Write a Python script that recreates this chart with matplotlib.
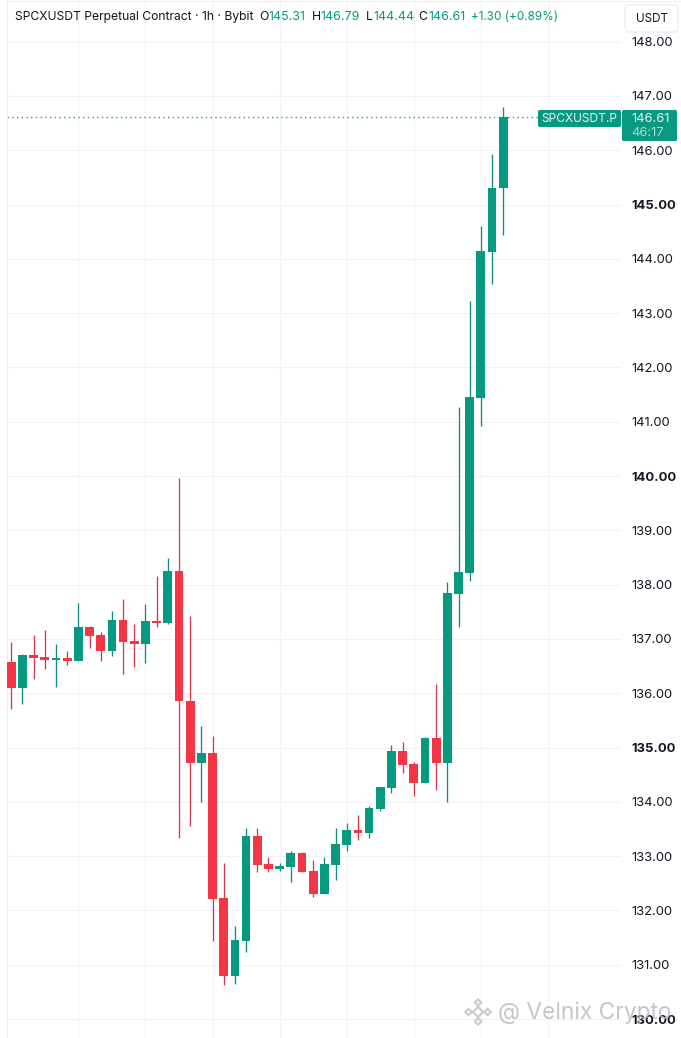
import numpy as np
import matplotlib
matplotlib.use("Agg")
import matplotlib.pyplot as plt
from matplotlib.patches import FancyBboxPatch, Polygon

plt.rcParams['font.family'] = ['Inter', 'DejaVu Sans']

# candles
open_ = [136.58, 136.10, 136.71, 136.67, 136.61, 136.65, 136.60, 137.22, 137.07, 136.78,
         137.35, 136.96, 136.91, 137.33, 137.30, 138.25, 135.86, 134.72, 134.90, 132.23,
         130.80, 131.44, 133.37, 132.85, 132.76, 132.81, 133.06, 132.73, 132.31, 132.84,
         133.21, 133.48, 133.43, 133.87, 134.26, 134.94, 134.70, 134.35, 135.18, 134.72,
         137.83, 138.22, 141.44, 144.13, 145.31]
high = [136.95, 136.72, 137.08, 137.17, 136.91, 136.78, 137.67, 137.24, 137.12, 137.52,
        137.74, 137.27, 137.64, 138.16, 138.49, 139.97, 137.42, 135.40, 135.21, 132.87,
        131.71, 133.52, 133.52, 132.99, 132.87, 133.10, 133.07, 132.93, 132.99, 133.52,
        133.61, 133.76, 133.92, 134.28, 135.05, 135.11, 134.73, 135.20, 136.17, 138.05,
        141.27, 143.22, 144.60, 145.94, 146.79]
low = [135.71, 135.81, 136.26, 136.45, 136.12, 136.52, 136.60, 136.84, 136.59, 136.69,
       136.36, 136.48, 136.56, 137.22, 137.28, 133.34, 133.56, 134.00, 131.43, 130.63,
       130.65, 131.24, 132.71, 132.71, 132.73, 132.53, 132.70, 132.25, 132.31, 132.57,
       133.10, 133.30, 133.34, 133.83, 134.16, 134.53, 134.11, 134.35, 134.22, 134.00,
       137.22, 138.07, 140.92, 143.54, 144.44]
close = [136.10, 136.71, 136.65, 136.61, 136.65, 136.60, 137.22, 137.06, 136.78, 137.35,
         136.95, 136.91, 137.33, 137.30, 138.25, 135.86, 134.72, 134.90, 132.22, 130.80,
         131.46, 133.37, 132.84, 132.76, 132.82, 133.06, 132.71, 132.31, 132.86, 133.22,
         133.48, 133.43, 133.89, 134.27, 134.94, 134.68, 134.35, 135.18, 134.72, 137.85,
         138.23, 141.46, 144.15, 145.30, 146.61]
price_ticks = list(range(130, 149))
bold_ticks = [130, 135, 140, 145]
time_grid = [6, 12, 18, 24, 30, 36, 42, 48]
last_price = 146.61

GREEN = '#089981'
RED = '#f23645'
W, H = 681, 1038


def fx(px):
    return px / W


def fy(py):
    return 1 - py / H


fig = plt.figure(figsize=(W / 100, H / 100), dpi=100, facecolor='white')
ax = fig.add_axes([fx(7), 0, fx(621 - 7), 1])

# price and bar index scales, from the gridline and candle positions
ax.set_ylim(147 - (H - 96) / 54.3, 147 + 96 / 54.3)
ax.set_xlim((7 - 11.3) / 11.18, (621 - 11.3) / 11.18)

x = np.arange(len(open_))
o, c, h, l = map(np.array, (open_, close, high, low))
colors = [GREEN if b >= a else RED for a, b in zip(o, c)]
wick_colors = ['#0f8f7b' if b >= a else '#d23a50' for a, b in zip(o, c)]

ax.vlines(x, l, h, colors=wick_colors, linewidth=0.95, zorder=3)
ax.bar(x, np.abs(c - o), bottom=np.minimum(o, c), width=0.78, color=colors, linewidth=0, zorder=4)

ax.set_yticks(price_ticks)
ax.set_xticks(time_grid)
ax.grid(True, color='#f1f2f5', linewidth=0.8, zorder=0)
ax.tick_params(left=False, bottom=False, labelleft=False, labelbottom=False)
for name, sp in ax.spines.items():
    sp.set_visible(name == 'left')
    sp.set_color('#eeeff2')
    sp.set_linewidth(0.8)

ax.axhline(last_price, color='#12a48c', linewidth=1.0, linestyle=(0, (1, 2.4)), zorder=2)

# top border of the chart
fig.add_artist(plt.Line2D([fx(7), 1], [fy(1), fy(1)], color='#eeeff2', linewidth=0.8))

# price scale labels
for p in price_ticks:
    yy = ax.transData.transform((0, p))[1] - 1.5
    fig.text(fx(631), yy / H, f'{p:.2f}', ha='left', va='center', fontsize=9.4, color='#131722',
             fontweight='bold' if p in bold_ticks else 'normal', zorder=5)

# header, one piece per colour
header = [('SPCXUSDT Perpetual Contract · 1h · Bybit', 15, '#131722', 8.72), ('O', 259, '#131722', 8.8),
          ('145.31', 268, GREEN, 8.95), ('H', 311.5, '#131722', 8.8), ('146.79', 320, GREEN, 8.95),
          ('L', 366, '#131722', 8.8), ('144.44', 373, GREEN, 8.95), ('C', 418, '#131722', 8.8),
          ('146.61', 428, GREEN, 8.95), ('+1.30 (+0.89%)', 471, GREEN, 8.45)]
for txt, px, col, size in header:
    fig.text(fx(px), fy(17), txt, ha='left', va='center', fontsize=size, color=col)

# USDT button
fig.add_artist(FancyBboxPatch((fx(625), fy(32)), fx(53), 27 / H, boxstyle='round,pad=0,rounding_size=0.004',
                              transform=fig.transFigure, facecolor='white', edgecolor='#e8e9ec',
                              linewidth=0.8, mutation_aspect=1))
fig.text(fx(651.5), fy(18.5), 'USDT', ha='center', va='center', fontsize=8.4, color='#131722')

# last price labels
fig.add_artist(FancyBboxPatch((fx(538), fy(127)), fx(83), 17 / H, boxstyle='round,pad=0,rounding_size=0.002',
                              transform=fig.transFigure, facecolor=GREEN, edgecolor='none'))
fig.add_artist(FancyBboxPatch((fx(622), fy(141)), fx(55), 31 / H, boxstyle='round,pad=0,rounding_size=0.002',
                              transform=fig.transFigure, facecolor=GREEN, edgecolor='none'))
fig.text(fx(579.5), fy(118.5), 'SPCXUSDT.P', ha='center', va='center', fontsize=8.6, color='#e6f5f2')
fig.text(fx(631), fy(118.5), '146.61', ha='left', va='center', fontsize=9.4, color='#e6f5f2')
fig.text(fx(631), fy(132.5), '46:17', ha='left', va='center', fontsize=9.4, color='#a5dcd0')

# watermark
wm = '#b9b9b9'
for cx, cy, r in [(478, 1012, 5), (478, 1002.5, 3.2), (478, 1021.5, 3.2), (468.5, 1012, 3.2), (487.5, 1012, 3.2)]:
    fig.add_artist(Polygon([(fx(cx - r), fy(cy)), (fx(cx), fy(cy - r)), (fx(cx + r), fy(cy)), (fx(cx), fy(cy + r))],
                           closed=True, transform=fig.transFigure, facecolor='none', edgecolor=wm,
                           linewidth=1.6, alpha=0.7, zorder=6))
fig.text(fx(498), fy(1013), '@ Velnix Crypto', ha='left', va='center', fontsize=16.4, color=wm, alpha=0.8, zorder=6)

fig.savefig('out.png', dpi=100)
